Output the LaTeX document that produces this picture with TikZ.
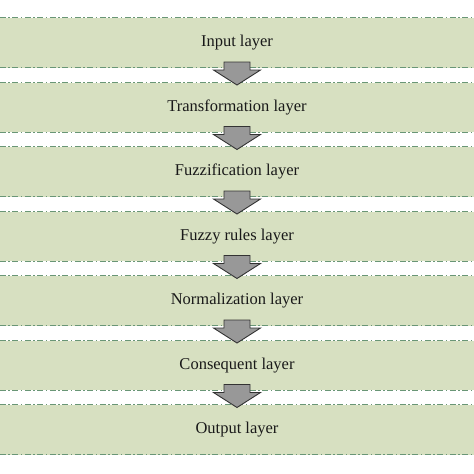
\documentclass[tikz,border=0pt]{standalone}
\usepackage{fontspec}
\setmainfont{Liberation Serif}
\usetikzlibrary{calc}

\definecolor{bandgreen}{RGB}{215,224,193}
\definecolor{linegreen}{RGB}{105,150,118}
\definecolor{arrowgray}{RGB}{152,152,152}

\begin{document}
\begin{tikzpicture}
			[x=1pt,y=-1pt,
			border/.style={draw=linegreen,line width=0.9pt,dash pattern=on 6pt off 2.5pt on 1.5pt off 2.5pt},
			layer/.style={rectangle,fill=bandgreen,minimum width=474pt,minimum height=49.5pt,inner sep=0pt,
				font=\fontsize{16.5}{20}\selectfont,text=black!90,
				append after command={(\tikzlastnode.north west) edge[border] (\tikzlastnode.north east)
					(\tikzlastnode.south west) edge[border] (\tikzlastnode.south east)}},
			down/.pic={\draw[draw=black!80,fill=arrowgray,line width=0.9pt,line join=miter]
				(-13,-11.5) -- (13,-11.5) -- (13,-3.5) -- (23.5,-3.5) -- (0,11.5)
				-- (-23.5,-3.5) -- (-13,-3.5) -- cycle;}]

			\useasboundingbox (0,0) rectangle (474,474);

			\node[layer] (input) at (237,42.75) {Input layer};
			\node[layer] (trans) at (237,107.25) {Transformation layer};
			\node[layer] (fuzz) at (237,171.75) {Fuzzification layer};
			\node[layer] (rules) at (237,236.25) {Fuzzy rules layer};
			\node[layer] (norm) at (237,300.75) {Normalization layer};
			\node[layer] (cons) at (237,365.25) {Consequent layer};
			\node[layer] (output) at (237,429.75) {Output layer};

			\coordinate (a1) at ($(input.south)!0.5!(trans.north)+(0,-1.5)$);
			\coordinate (a2) at ($(trans.south)!0.5!(fuzz.north)+(0,-1.5)$);
			\coordinate (a3) at ($(fuzz.south)!0.5!(rules.north)+(0,-1.5)$);
			\coordinate (a4) at ($(rules.south)!0.5!(norm.north)+(0,-1.5)$);
			\coordinate (a5) at ($(norm.south)!0.5!(cons.north)+(0,-1.5)$);
			\coordinate (a6) at ($(cons.south)!0.5!(output.north)+(0,-1.5)$);

			\pic at (a1) {down};
			\pic at (a2) {down};
			\pic at (a3) {down};
			\pic at (a4) {down};
			\pic at (a5) {down};
			\pic at (a6) {down};
		\end{tikzpicture}
\end{document}
